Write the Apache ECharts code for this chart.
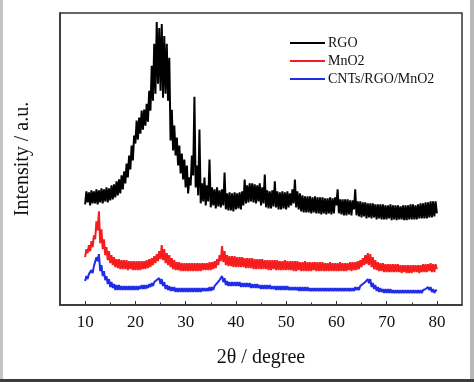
<!DOCTYPE html>
<html>
<head>
<meta charset="utf-8">
<script src="https://cdn.jsdelivr.net/npm/echarts@6/dist/echarts.min.js"></script>
<style>
  html, body { margin: 0; padding: 0; background: #fff; }
  #box { position: relative; width: 474px; height: 382px; overflow: hidden; }
  #main { width: 474px; height: 382px; }
  .edge { position: absolute; }
</style>
</head>
<body>
<div id="box">
  <div id="main"></div>
  <div class="edge" style="left:0;top:0;width:3px;height:382px;background:#c4c4c4"></div>
  <div class="edge" style="right:0;top:0;width:4px;height:382px;background:#b8b8b8"></div>
  <div class="edge" style="left:0;bottom:0;width:474px;height:3px;background:#3c3c3c"></div>
</div>
<script>
// 2θ sampling: 10° to 80°, every 0.25° (one row = one degree)
const thetaStart = 10;
const thetaStep = 0.25;

const seriesNames = ["RGO", "MnO2", "CNTs/RGO/MnO2"];
const xTicks = [10, 20, 30, 40, 50, 60, 70, 80];
const xMinorTicks = [15, 25, 35, 45, 55, 65, 75];

// intensities (a.u., stacked offsets included)
const rgo = [
  101, 114, 103, 113,  100, 115, 102, 114,  102, 116, 101, 115,  103, 117, 102, 116,  104, 118, 103, 117,
  105, 120, 106, 121,  108, 124, 110, 126,  112, 130, 116, 134,  122, 142, 128, 150,  136, 160, 145, 170,
  162, 185, 166, 188,  172, 195, 176, 196,  180, 202, 184, 215,  195, 240, 205, 262,  212, 284, 222, 278,
  215, 282, 208, 270,  212, 262, 205, 248,  165, 196, 155, 180,  150, 168, 140, 160,  132, 152, 126, 146,
  118, 140, 112, 128,  120, 150, 130, 209,  118, 140, 110, 176,  102, 122, 104, 128,  100, 120, 104, 146,
  98, 118, 100, 116,   97, 118, 99, 115,    98, 116, 100, 133,   96, 112, 95, 113,    95, 112, 94, 113,
  96, 112, 97, 113,    96, 114, 100, 126,   102, 120, 103, 122,  104, 122, 103, 121,  102, 120, 104, 122,
  100, 118, 102, 131,  98, 115, 97, 114,    97, 115, 99, 124,    98, 114, 96, 113,    96, 114, 97, 113,
  96, 114, 98, 112,    100, 116, 102, 126,  98, 114, 96, 112,    94, 110, 93, 109,    93, 109, 93, 109,
  92, 108, 93, 109,    92, 108, 92, 108,    91, 108, 92, 107,    91, 107, 92, 108,    91, 107, 92, 108,
  100, 116, 92, 106,   91, 106, 90, 106,    90, 106, 91, 105,    90, 105, 96, 116,    90, 104, 89, 104,
  88, 103, 89, 103,    87, 102, 88, 102,    87, 102, 88, 101,    86, 101, 87, 101,    86, 101, 86, 100,
  86, 100, 87, 101,    85, 100, 86, 100,    85, 100, 86, 99,     86, 100, 85, 100,    85, 100, 86, 101,
  86, 101, 86, 100,    86, 101, 87, 102,    87, 102, 87, 103,    87, 103, 88, 104,    88, 104, 89, 104,
  92
];
const mno2 = [
  48, 56, 52, 60,  54, 64, 58, 70,  66, 84, 75, 94,  62, 76, 56, 66,  50, 58, 45, 54,
  42, 50, 40, 48,  38, 46, 37, 46,  36, 45, 36, 45,  36, 45, 35, 44,  36, 44, 35, 44,
  35, 44, 35, 44,  35, 44, 36, 44,  36, 45, 37, 46,  38, 47, 40, 49,  42, 51, 44, 54,
  46, 60, 45, 56,  42, 52, 40, 50,  38, 47, 36, 45,  35, 43, 35, 43,  34, 42, 34, 42,
  34, 42, 34, 42,  34, 42, 34, 42,  34, 42, 34, 42,  34, 42, 35, 42,  35, 42, 35, 43,
  35, 43, 36, 44,  37, 46, 40, 50,  44, 59, 43, 54,  40, 50, 39, 49,  39, 49, 38, 49,
  38, 48, 38, 48,  38, 48, 38, 47,  37, 47, 37, 47,  37, 47, 36, 46,  36, 46, 36, 46,
  36, 46, 36, 45,  36, 45, 35, 45,  35, 45, 36, 45,  35, 45, 35, 44,  35, 44, 35, 45,
  35, 44, 35, 44,  35, 44, 34, 44,  34, 44, 35, 43,  34, 43, 34, 44,  34, 43, 34, 43,
  34, 43, 35, 43,  34, 43, 34, 43,  34, 43, 34, 42,  34, 42, 34, 43,  34, 42, 34, 42,
  34, 42, 34, 43,  34, 42, 34, 42,  34, 42, 35, 43,  34, 43, 35, 43,  35, 44, 36, 45,
  38, 47, 40, 50,  41, 52, 40, 51,  38, 48, 36, 45,  35, 43, 34, 42,  34, 42, 33, 41,
  33, 41, 33, 41,  33, 41, 33, 41,  33, 41, 33, 40,  32, 40, 33, 40,  32, 40, 32, 40,
  32, 40, 33, 40,  33, 40, 32, 40,  33, 41, 33, 41,  33, 41, 34, 42,  33, 41, 33, 41,
  36
];
const composite = [
  24, 29, 26, 31,  29, 35, 32, 39,  40, 48, 44, 51,  34, 40, 29, 34,  25, 29, 21, 26,
  18, 23, 17, 21,  15, 20, 15, 20,  15, 19, 15, 19,  15, 19, 15, 19,  15, 19, 15, 19,
  15, 19, 15, 19,  16, 20, 16, 20,  16, 20, 17, 21,  18, 22, 19, 23,  21, 25, 23, 27,
  21, 26, 19, 23,  16, 20, 15, 19,  14, 18, 14, 18,  13, 17, 13, 17,  13, 17, 13, 17,
  13, 17, 13, 17,  13, 17, 13, 17,  13, 17, 13, 17,  13, 17, 14, 17,  14, 17, 14, 18,
  14, 18, 15, 19,  17, 22, 21, 25,  24, 29, 23, 27,  20, 24, 19, 23,  19, 23, 19, 23,
  19, 23, 19, 23,  18, 22, 18, 22,  18, 22, 18, 22,  17, 21, 17, 21,  17, 21, 17, 20,
  16, 20, 16, 20,  16, 20, 16, 20,  16, 19, 16, 19,  15, 19, 15, 19,  15, 19, 15, 19,
  15, 19, 15, 18,  15, 18, 15, 18,  15, 18, 14, 18,  14, 18, 14, 18,  14, 18, 14, 17,
  14, 17, 14, 17,  14, 17, 14, 17,  14, 17, 14, 17,  14, 17, 14, 17,  14, 17, 14, 17,
  14, 17, 14, 17,  14, 17, 14, 17,  14, 17, 14, 17,  14, 17, 14, 18,  15, 18, 15, 19,
  17, 21, 19, 23,  22, 26, 22, 26,  18, 22, 16, 20,  14, 18, 13, 17,  13, 16, 12, 16,
  12, 16, 12, 16,  12, 15, 12, 15,  12, 15, 12, 15,  12, 15, 12, 15,  12, 15, 12, 15,
  12, 15, 12, 15,  12, 15, 12, 15,  12, 15, 13, 16,  14, 18, 15, 18,  13, 16, 12, 15,
  14
];

const colors = ["#000000", "#f51d1d", "#1f2ce8"];
const serif = "'Liberation Serif', 'Times New Roman', serif";

function pairs(arr) {
  return arr.map((v, i) => [thetaStart + i * thetaStep, v]);
}

const chart = echarts.init(document.getElementById("main"), null, { renderer: "canvas" });

const option = {
  animation: false,
  color: colors,
  grid: {
    left: 60,
    right: 12,
    top: 13,
    bottom: 77,
    show: true,
    borderColor: "#333",
    borderWidth: 1.5,
    backgroundColor: "transparent"
  },
  legend: {
    orient: "vertical",
    left: 285,
    top: 31,
    icon: "rect",
    itemWidth: 35,
    itemHeight: 2,
    itemGap: 4,
    data: seriesNames,
    textStyle: {
      fontFamily: serif,
      fontSize: 14,
      color: "#111",
      padding: [0, 0, 0, -2]
    }
  },
  xAxis: [
    {
      type: "value",
      min: 5,
      max: 85,
      name: "2θ / degree",
      nameLocation: "middle",
      nameGap: 43,
      nameTextStyle: { fontFamily: serif, fontSize: 20, color: "#111" },
      axisLine: { show: true, onZero: false, lineStyle: { color: "#333", width: 1.5 } },
      axisTick: { show: true, inside: true, length: 4, customValues: xTicks, lineStyle: { color: "#333" } },
      axisLabel: {
        customValues: xTicks,
        margin: 9,
        fontFamily: serif,
        fontSize: 17,
        color: "#111"
      },
      splitLine: { show: false }
    },
    {
      type: "value",
      min: 5,
      max: 85,
      position: "bottom",
      axisLine: { show: false },
      axisTick: { show: true, inside: true, length: 2.5, customValues: xMinorTicks, lineStyle: { color: "#333" } },
      axisLabel: { show: false },
      splitLine: { show: false }
    }
  ],
  yAxis: {
    type: "value",
    min: 0,
    max: 293,
    name: "Intensity / a.u.",
    nameLocation: "middle",
    nameGap: 27,
    nameTextStyle: { fontFamily: serif, fontSize: 20, color: "#111" },
    axisLine: { show: true, lineStyle: { color: "#333", width: 1.5 } },
    axisTick: { show: false },
    axisLabel: { show: false },
    splitLine: { show: false }
  },
  series: [
    { name: seriesNames[0], type: "line", data: pairs(rgo), symbol: "none", lineStyle: { width: 2 } },
    { name: seriesNames[1], type: "line", data: pairs(mno2), symbol: "none", lineStyle: { width: 2 } },
    { name: seriesNames[2], type: "line", data: pairs(composite), symbol: "none", lineStyle: { width: 2 } }
  ]
};

chart.setOption(option);
</script>
</body>
</html>
